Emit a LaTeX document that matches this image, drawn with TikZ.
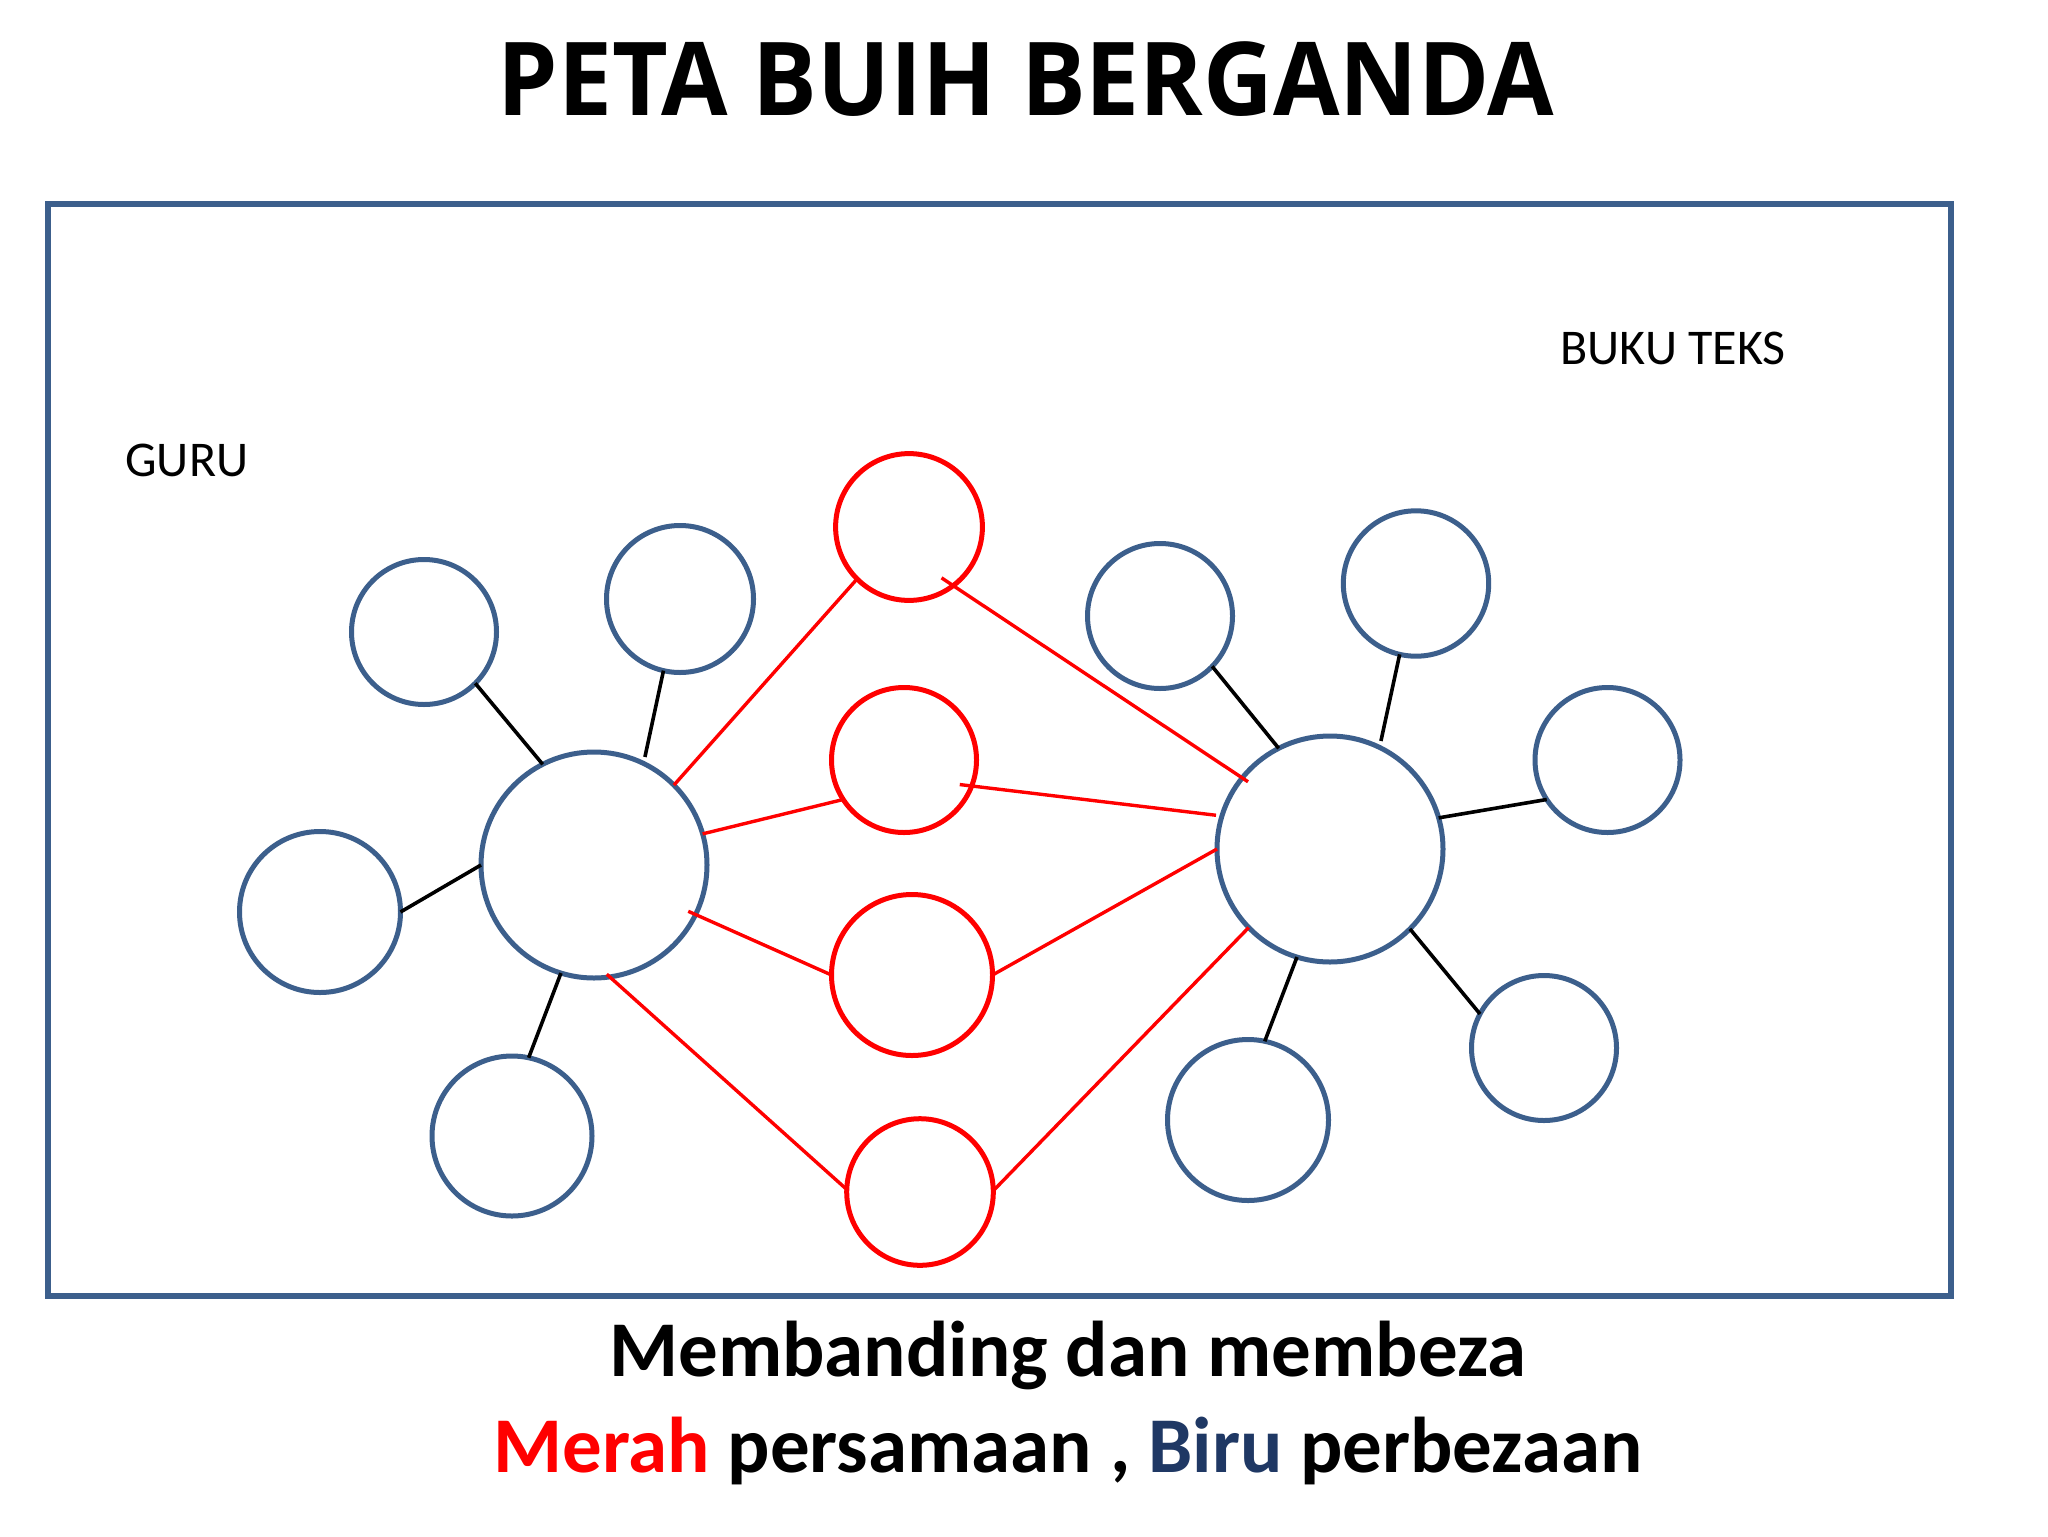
\documentclass[tikz,border=0pt]{standalone}
\usepackage{fontspec}
\setmainfont{Carlito}
\newfontfamily\titlefont{Open Sans}
\definecolor{bblue}{HTML}{3C5F8C}
\definecolor{biru}{HTML}{1F3864}
\definecolor{merah}{HTML}{FF0000}
\begin{document}
\begin{tikzpicture}[x=0.5pt,y=-0.5pt,
  bubble/.style={circle, draw=bblue, line width=2.5pt, inner sep=0pt, outer sep=0pt, minimum size=#1},
  redbubble/.style={bubble=#1, draw=merah},
  blk/.style={line width=1.8pt, black},
  rd/.style={line width=1.7pt, merah},
  lbl/.style={inner sep=0pt, font=\fontsize{25}{25}\selectfont}]
\useasboundingbox (0,0) rectangle (2048,1536);
\fill[white] (0,0) rectangle (2048,1536);
% title
\node[anchor=base, inner sep=0pt, font=\titlefont\bfseries\fontsize{51}{51}\selectfont] (title) at (1026,115) {\scalebox{0.945}[1]{PETA BUIH BERGANDA}};
% frame
\draw[bblue, line width=2.6pt] (48,204) rectangle (1951,1296);
% labels
\node[lbl, anchor=base west] (guru) at (125,476) {GURU};
\node[lbl, anchor=base west] (buku) at (1560,364) {BUKU TEKS};
% bubbles
\node[bubble=113pt] (L) at (594,865) {};
\node[bubble=113pt] (R) at (1330,849) {};
\node[bubble=72.5pt] (L1) at (424,632) {};
\node[bubble=73.5pt] (L2) at (680,599) {};
\node[bubble=80.5pt] (L3) at (320,912) {};
\node[bubble=80pt] (L4) at (512,1136) {};
\node[bubble=72.5pt] (R1) at (1160,616) {};
\node[bubble=72.7pt] (R2) at (1416,583.5) {};
\node[bubble=72.5pt] (R3) at (1607.5,760) {};
\node[bubble=72.5pt] (R4) at (1544,1048) {};
\node[bubble=80.5pt] (R5) at (1248,1120) {};
\node[redbubble=73.4pt] (M1) at (909,527) {};
\node[redbubble=72.5pt] (M2) at (904,760) {};
\node[redbubble=80.5pt] (M3) at (912,975) {};
\node[redbubble=73.3pt] (M4) at (920,1192) {};
% black connectors
\draw[blk] (L1.-45.3) -- (L.117.5);
\draw[blk, shorten >=3.3pt] (L2.257.8) -- (L.64.5);
\draw[blk] (L3.0) -- (L.180);
\draw[blk] (L4.78.7) -- (L.253);
\draw[blk] (R1.-44.6) -- (R.117.6);
\draw[blk, shorten >=3.3pt] (R2.257.2) -- (R.64.7);
\draw[blk] (R.16.8) -- (R3.213);
\draw[blk] (R.-45.6) -- (R4.152.1);
\draw[blk] (R.253) -- (R5.78.5);
% red connectors
\draw[rd] (L.45.3) -- (M1.225.5);
\draw[rd] (L.16.7) -- (M2.213.9);
\draw[rd, shorten <=-4pt] (L.-26.3) -- (M3.180);
\draw[rd, shorten <=-2pt] (L.-82.4) -- (M4.178.5);
\draw[rd, shorten <=-7pt, shorten >=-3.5pt] (M1.-53.4) -- (R.141.7);
\draw[rd, shorten <=-6pt, shorten >=3pt] (M2.-21.7) -- (R.163.8);
\draw[rd] (M3.0) -- (R.180);
\draw[rd] (M4.1.6) -- (R.224.8);
% bottom text
\node[anchor=base, inner sep=0pt, font=\bfseries\fontsize{39.5}{39.5}\selectfont] (line1) at (1068,1376) {Membanding dan membeza};
\node[anchor=base, inner sep=0pt, font=\bfseries\fontsize{39.5}{39.5}\selectfont] (line2) at (1068,1472) {\textcolor{merah}{Merah} persamaan , \textcolor{biru}{Biru} perbezaan};
\end{tikzpicture}
\end{document}
